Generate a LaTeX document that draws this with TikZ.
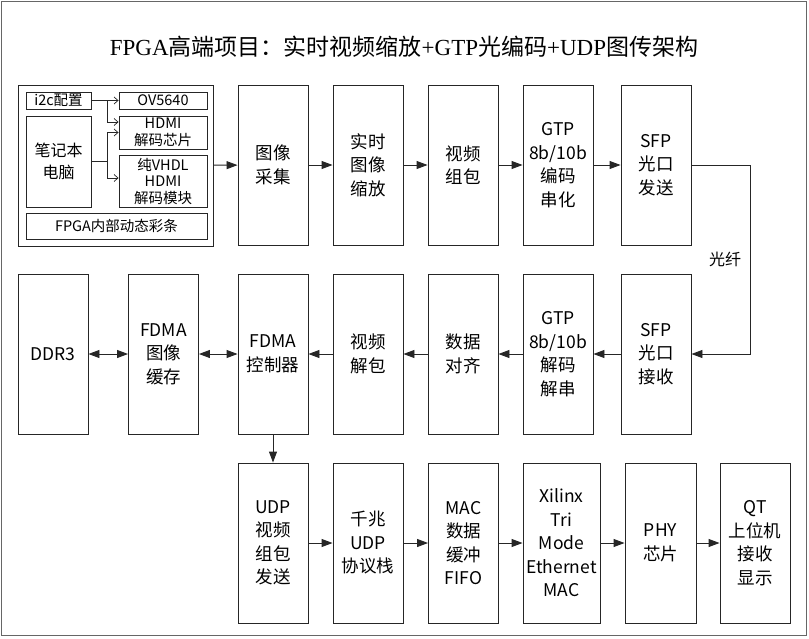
\documentclass[tikz,border=0pt]{standalone}
\usepackage{fontspec}
\setmainfont{Noto Sans CJK SC}
\newfontfamily\latinserif{Liberation Serif}
\usetikzlibrary{arrows.meta}

\tikzset{
  blk/.style={draw=black!85, line width=0.9pt, minimum width=70pt, minimum height=160pt,
    inner sep=0pt, align=center, font=\fontsize{17.5pt}{23.5pt}\selectfont},
  smallbox/.style={draw=black!85, line width=0.9pt, inner sep=0pt, align=center,
    font=\fontsize{14.5pt}{16.5pt}\selectfont},
  flow/.style={draw=black!85, line width=0.9pt, -{Triangle[length=11pt,width=8pt]}},
  both/.style={draw=black!85, line width=0.9pt, {Triangle[length=11pt,width=8pt]}-{Triangle[length=11pt,width=8pt]}},
  thin/.style={draw=black!85, line width=0.7pt, -{Straight Barb[length=4pt,width=7pt]}}
}

\begin{document}
\begin{tikzpicture}[x=1pt,y=-1pt]
    \useasboundingbox (0,0) rectangle (809,638);
    % The frame and the title
    \draw[black!60, line width=0.9pt] (1,1) rectangle (806,635);
    \node[font=\fontsize{23pt}{26pt}\selectfont] (title) at (404,47)
        {{\latinserif FPGA}高端项目：实时视频缩放{\latinserif +GTP}光编码{\latinserif +UDP}图传架构};

    % The input group
    \node[smallbox, minimum width=195pt, minimum height=161pt] (grp) at (115.5,165.5) {};
    \node[smallbox, minimum width=65pt, minimum height=17pt] (i2c) at (58.5,100.5) {i2c配置};
    \node[smallbox, minimum width=88pt, minimum height=17pt] (ov) at (163,100.5) {OV5640};
    \node[smallbox, minimum width=88pt, minimum height=33pt] (hdmic) at (163,132.5) {HDMI\\解码芯片};
    \node[smallbox, minimum width=88pt, minimum height=52pt] (vhdl) at (163,181) {纯VHDL\\HDMI\\解码模块};
    \node[smallbox, minimum width=65pt, minimum height=91pt, font=\fontsize{16pt}{22pt}\selectfont] (pc) at (58.5,161.5) {笔记本\\电脑};
    \node[smallbox, minimum width=181pt, minimum height=26pt] (bar) at (116.5,226) {FPGA内部动态彩条};

    % The links inside the group
    \draw[thin] (i2c.east) -- ++(16,0) coordinate (j1) -- (ov.west);
    \draw[thin] (j1) |- ([yshift=10.5pt]hdmic.west);
    \draw[thin] (pc.east) -- ++(16,0) coordinate (j2) |- (hdmic.west);
    \draw[thin] (j2) |- ([yshift=3pt]vhdl.west);

    % The first row
    \node[blk] (cap) at (273,165) {图像\\采集};
    \node[blk] (scale) at (368,165) {实时\\图像\\缩放};
    \node[blk] (pack) at (463,165) {视频\\组包};
    \node[blk] (enc) at (558,165) {GTP\\8b/10b\\编码\\串化};
    \node[blk] (sfptx) at (656,165) {SFP\\光口\\发送};

    % The second row
    \node[blk] (ddr) at (53,354) {DDR3};
    \node[blk] (fbuf) at (163.5,354) {FDMA\\图像\\缓存};
    \node[blk] (fctl) at (273,354) {FDMA\\控制器};
    \node[blk] (unpack) at (368,354) {视频\\解包};
    \node[blk] (align) at (463,354) {数据\\对齐};
    \node[blk] (dec) at (558,354) {GTP\\8b/10b\\解码\\解串};
    \node[blk] (sfprx) at (656,354) {SFP\\光口\\接收};

    % The third row
    \node[blk] (udp) at (273,543) {UDP\\视频\\组包\\发送};
    \node[blk] (stack) at (368,543) {千兆\\UDP\\协议栈};
    \node[blk] (fifo) at (463.5,543) {MAC\\数据\\缓冲\\FIFO};
    \node[blk, minimum width=77pt] (mac) at (561.5,543) {Xilinx\\Tri\\Mode\\Ethernet\\MAC};
    \node[blk, minimum width=71pt] (phy) at (660.5,543) {PHY\\芯片};
    \node[blk] (qt) at (755,543) {QT\\上位机\\接收\\显示};

    % The data flow
    \draw[flow] (grp) -- (cap);
    \draw[flow] (cap) -- (scale);
    \draw[flow] (scale) -- (pack);
    \draw[flow] (pack) -- (enc);
    \draw[flow] (enc) -- (sfptx);
    \draw[flow] (sfptx.east) -- ++(59,0) coordinate (f1) |- (sfprx.east);
    \node[font=\fontsize{16pt}{18pt}\selectfont] (fib) at (725,259) {光纤};
    \draw[flow] (sfprx) -- (dec);
    \draw[flow] (dec) -- (align);
    \draw[flow] (align) -- (unpack);
    \draw[flow] (unpack) -- (fctl);
    \draw[both] (fctl) -- (fbuf);
    \draw[both] (fbuf) -- (ddr);
    \draw[flow] (fctl) -- (udp);
    \draw[flow] (udp) -- (stack);
    \draw[flow] (stack) -- (fifo);
    \draw[flow] (fifo) -- (mac);
    \draw[flow] (mac) -- (phy);
    \draw[flow] (phy) -- (qt);
\end{tikzpicture}
\end{document}
